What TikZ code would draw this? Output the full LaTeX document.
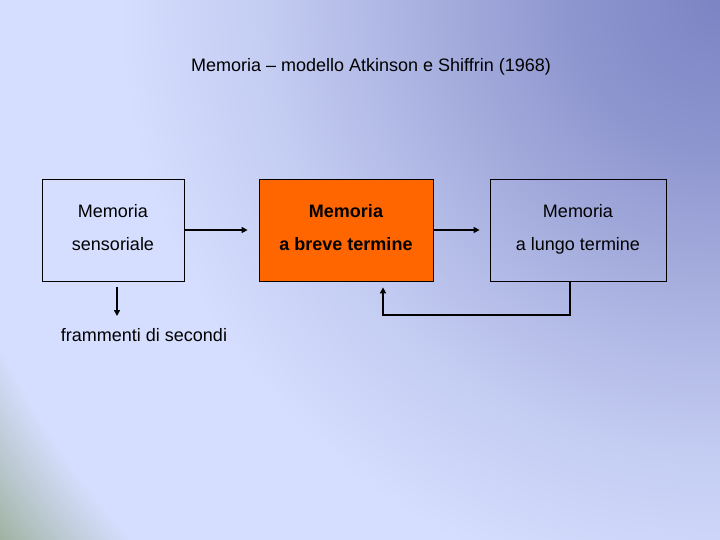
\documentclass[tikz,border=0pt]{standalone}
\usepackage{fontspec}
\setmainfont{Liberation Sans}
\usetikzlibrary{arrows.meta}

\definecolor{fondsombre}{HTML}{7C84C4}
\definecolor{fondmoyen}{HTML}{A9B1E0}
\definecolor{fondclair}{HTML}{D5DEFE}
\definecolor{fondvert}{HTML}{98AC94}
\definecolor{orangevif}{HTML}{FF6600}

% Dégradé du fond, centré sur le coin haut droit
\pgfdeclareradialshading{fondradial}{\pgfpoint{0bp}{0bp}}{%
  color(0bp)=(fondsombre); color(150bp)=(fondsombre!60!fondmoyen);
  color(300bp)=(fondmoyen); color(450bp)=(fondmoyen!40!fondclair);
  color(600bp)=(fondclair); color(795bp)=(fondclair);
  color(850bp)=(fondclair!55!fondvert); color(910bp)=(fondvert);
  color(960bp)=(fondvert)}

\tikzset{
  boite/.style={draw=black, line width=0.8pt, inner sep=0pt, align=center,
    minimum height=102pt, font=\fontsize{18}{33}\selectfont},
  texte/.style={inner sep=0pt, font=\fontsize{18}{22}\selectfont},
  fleche/.style={-{Triangle[length=6pt,width=6pt]}, line width=1.5pt},
}

\begin{document}
\begin{tikzpicture}[x=1pt,y=-1pt]
      \useasboundingbox (0,0) rectangle (720,540);
      % Fond dégradé
      \begin{scope}
        \clip (0,0) rectangle (720,540);
        \node[inner sep=0pt] (fond) at (720,0) {\pgfuseshading{fondradial}};
      \end{scope}

      % Titre
      \node[texte] (titre) at (371,67) {Memoria -- modello Atkinson e Shiffrin (1968)};

      % Les trois mémoires
      \node[boite, minimum width=142pt] (sens) at (113,230) {Memoria\\sensoriale\\[-27pt]\mbox{}};
      \node[boite, minimum width=174pt, fill=orangevif, font=\fontsize{18}{33}\selectfont\bfseries]%
      (breve) at (346,230) {Memoria\\a breve termine\\[-27pt]\mbox{}};
      \node[boite, minimum width=176pt] (lungo) at (578,230) {Memoria\\a lungo termine\\[-27pt]\mbox{}};

      \node[texte] (frammenti) at (144,335) {frammenti di secondi};

      % Points d'ancrage des flèches
      \coordinate (Fl_S) at (117,316);
      \coordinate (Rt_D) at (570,315);
      \coordinate (Rt_G) at (383,315);

      % Flèches
      \draw[fleche, shorten >=11pt] (sens) -- (breve);
      \draw[fleche, shorten >=10pt] (breve) -- (lungo);
      \draw[fleche, shorten <=6pt] (sens.south -| Fl_S) -- (Fl_S);
      % Retour vers la mémoire à breve termine
      \draw[fleche, shorten >=6pt] (lungo.south -| Rt_D) -- (Rt_D) -- (Rt_G) -- (breve.south -| Rt_G);
\end{tikzpicture}
\end{document}
